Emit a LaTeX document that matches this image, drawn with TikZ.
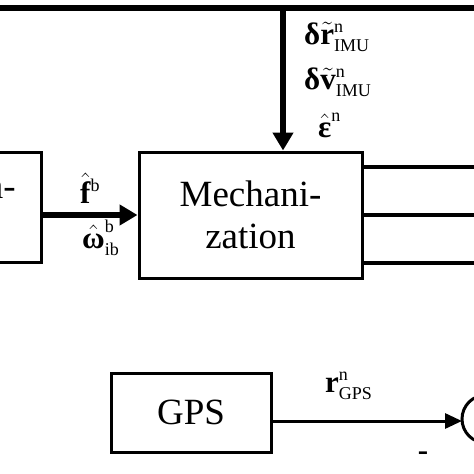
\documentclass[tikz,border=0pt]{standalone}
\usepackage{fix-cm}
\usepackage{amsmath}
\usepackage{amssymb}
\usepackage{fontspec}
\setmainfont{Liberation Serif}
\usetikzlibrary{arrows.meta}
\DeclareMathSizes{31}{31}{18}{13}

\begin{document}
\begin{tikzpicture}[x=1pt, y=-1pt]
\tikzset{block/.style = {rectangle, draw, line width=3pt, inner sep=0pt, align=center,
   font=\fontsize{37}{42}\selectfont}}
\tikzset{label/.style = {inner sep=0pt, font=\fontsize{31}{36}\selectfont}}
\tikzset{bus/.style = {line width=6pt}}
\tikzset{edge/.style = {-{Triangle[length=18pt, width=20pt]}, line width=6pt}}
\tikzset{thin edge/.style = {-{Triangle[length=17pt, width=15pt]}, line width=3pt}}

\useasboundingbox (0,0) rectangle (474,474);
\clip (0,0) rectangle (474,474);

% blocks
\node[block, minimum width=133pt, minimum height=110pt, anchor=east] (comp) at (43,207) {};
\node[label, font=\fontsize{37}{42}\selectfont, anchor=base east] (comptxt) at (16,198) {n-};
\node[block, minimum width=223pt, minimum height=126pt] (mech) at (250.5,215) {Mechani-\\zation};
\node[block, minimum width=160pt, minimum height=79pt] (gps) at (191,412.5) {GPS};
\draw[line width=3pt] (486,419) circle (24);
\coordinate (sum) at (462,421);

% feedback bus
\coordinate (busL) at (-5,7.5);
\coordinate (busR) at (479,7.5);
\coordinate (tap) at (283,7.5);
\draw[bus] (busL) -- (busR);
\draw[edge] (tap) -- (tap |- mech.north);

% outputs
\foreach \i/\y in {1/167, 2/215, 3/263}
  {\coordinate (out\i) at (479,\y);
   \draw[line width=4pt] (mech.east |- out\i) -- (out\i);}

\draw[edge] (comp.east |- mech.west) -- (mech.west);
\draw[thin edge] (gps.east |- sum) -- (sum);

% labels
\node[label, anchor=base west] (dr) at (304,44) {$\text{\bfseries δ}\tilde{\mathbf{r}}^{\mathrm{n}}_{\mathrm{IMU}}$};
\node[label, anchor=base west] (dv) at (304,89) {$\text{\bfseries δ}\tilde{\mathbf{v}}^{\mathrm{n}}_{\mathrm{IMU}}$};
\node[label, anchor=base west] (eps) at (318,137) {$\hat{\text{\bfseries ε}}^{\mathrm{n}}$};
\node[label, anchor=base west] (f) at (80,203) {$\hat{\mathbf{f}}^{\mathrm{b}}$};
\node[label, anchor=base west] (w) at (82,248) {$\hat{\text{\bfseries ω}}^{\mathrm{b}}_{\mathrm{ib}}$};
\node[label, anchor=base west] (r) at (325,392) {$\mathbf{r}^{\mathrm{n}}_{\mathrm{GPS}}$};
\node[label, anchor=base] (minus) at (423,460) {\textbf{-}};

\end{tikzpicture}
\end{document}
